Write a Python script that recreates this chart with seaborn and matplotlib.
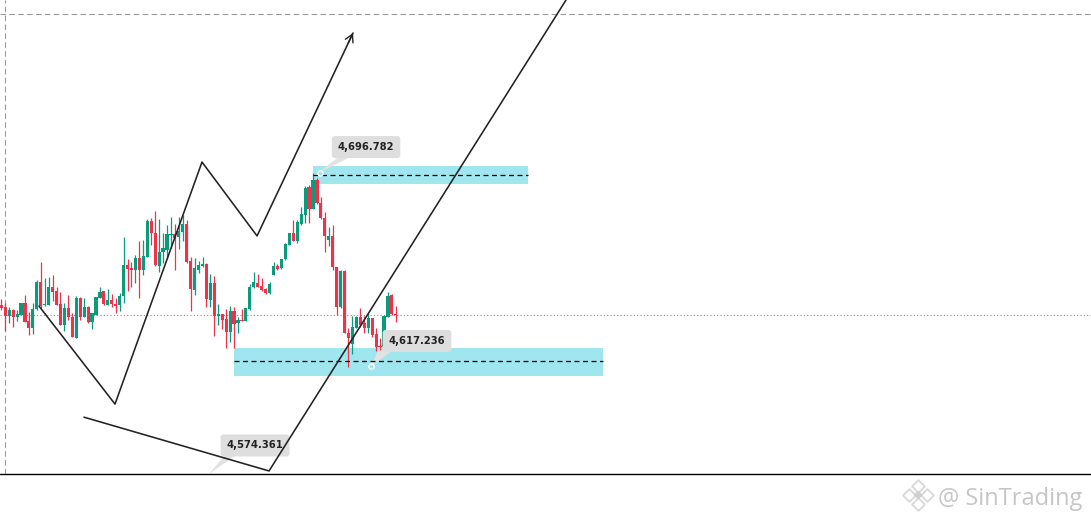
import matplotlib
matplotlib.use("Agg")
import matplotlib.pyplot as plt
import numpy as np
import pandas as pd
import seaborn as sns

highs = [4643.6,4641.9,4640.5,4639.3,4639.0,4642.2,4645.5,4638.3,4641.9,4651.9,4659.7,4652.6,4653.0,4654.0,4649.0,4646.9,4641.9,4645.5,4637.9,4645.0,4644.8,4644.0,4640.8,4637.6,4644.5,4648.7,4647.3,4647.9,4645.9,4644.0,4646.2,4670.4,4660.7,4659.7,4662.6,4668.7,4669.0,4677.8,4678.3,4681.5,4677.8,4671.8,4675.4,4679.0,4675.8,4679.0,4679.7,4677.5,4661.9,4661.1,4660.2,4661.6,4659.0,
         4654.4,4653.6,4641.6,4637.3,4639.3,4640.8,4640.2,4636.2,4639.3,4639.8,4650.2,4655.3,4654.4,4652.6,4648.3,4651.2,4659.7,4658.7,4660.7,4667.8,4671.8,4677.5,4677.5,4683.0,4692.1,4692.5,4697.8,4695.4,4687.2,4681.1,4674.7,4675.4,4657.3,4656.2,4656.2,4631.2,4636.5,4636.5,4639.8,4636.5,4637.9,4635.6,4631.2,4626.9,4636.9,4646.6,4645.9,4640.9]
lows = [4639.1,4630.2,4633.3,4631.6,4634.5,4636.8,4634.1,4628.2,4628.8,4639.0,4639.8,4640.8,4641.2,4643.0,4641.0,4632.5,4630.2,4634.8,4627.4,4626.9,4634.8,4635.9,4633.3,4630.8,4636.9,4644.0,4641.2,4641.0,4640.5,4637.6,4638.8,4642.2,4647.3,4649.0,4650.7,4644.0,4654.0,4661.6,4666.9,4657.9,4655.4,4659.3,4660.7,4665.4,4656.2,4665.0,4668.7,4659.3,4638.8,4645.5,4655.0,4657.6,4640.5,
        4640.5,4627.9,4632.6,4630.8,4622.6,4625.5,4622.6,4629.3,4634.2,4634.2,4639.0,4648.3,4648.7,4647.3,4645.9,4645.9,4654.0,4656.2,4656.4,4660.4,4666.7,4668.6,4667.5,4675.4,4676.1,4676.4,4682.1,4684.4,4677.8,4664.0,4666.4,4656.2,4636.9,4639.8,4629.1,4614.8,4620.2,4631.2,4631.9,4629.1,4629.1,4627.6,4621.7,4621.9,4622.2,4635.9,4636.9,4634.1]
opens = [4641.0,4640.2,4636.6,4639.0,4636.2,4637.1,4642.2,4634.3,4631.2,4639.3,4651.2,4641.0,4641.3,4648.7,4647.2,4641.6,4632.6,4640.1,4636.2,4627.2,4644.3,4636.2,4640.5,4633.9,4637.1,4644.2,4647.3,4641.3,4643.3,4641.6,4641.0,4645.0,4658.3,4657.0,4656.3,4661.1,4656.3,4661.9,4677.3,4671.8,4657.9,4663.9,4664.7,4671.1,4671.6,4670.1,4672.6,4675.8,4660.0,4647.6,4656.2,4657.9,4658.7,
         4643.3,4650.7,4636.5,4637.3,4635.1,4629.8,4638.8,4633.3,4634.8,4634.5,4639.3,4648.7,4650.7,4649.3,4647.9,4646.2,4654.2,4658.0,4656.9,4660.7,4667.0,4671.8,4668.6,4675.8,4679.8,4691.5,4682.4,4694.6,4684.7,4678.2,4669.0,4670.7,4657.3,4640.2,4655.9,4629.1,4624.5,4631.2,4635.9,4633.3,4631.5,4635.6,4628.8,4623.6,4623.1,4635.9,4645.5,4637.3]
closes = [4639.8,4636.6,4639.0,4636.2,4637.3,4642.2,4634.1,4631.4,4639.6,4651.2,4640.8,4641.5,4648.7,4646.9,4641.2,4632.8,4640.1,4635.9,4627.4,4644.3,4636.2,4640.5,4634.1,4637.6,4644.5,4646.8,4641.5,4643.3,4641.6,4640.8,4645.0,4658.3,4656.7,4656.3,4661.1,4656.3,4662.1,4677.3,4671.8,4658.2,4664.0,4665.4,4671.6,4671.6,4669.7,4673.0,4675.8,4659.7,4647.9,4656.9,4658.2,4658.6,4643.6,
          4650.4,4636.5,4637.3,4634.8,4629.8,4638.8,4633.1,4634.8,4634.3,4639.8,4649.0,4651.2,4649.0,4647.6,4646.5,4650.2,4657.9,4656.6,4660.7,4667.3,4671.8,4668.7,4676.8,4680.1,4691.2,4682.1,4694.6,4684.7,4678.2,4670.7,4670.7,4657.3,4640.2,4655.9,4629.1,4626.9,4631.6,4635.9,4632.6,4631.5,4635.6,4628.3,4623.1,4623.1,4636.6,4645.2,4637.3,4636.8]

path_up_x = [10.56, 29.82, 51.87, 65.82, 90.15]
path_up_p = [4640.7, 4598.8, 4702.3, 4670.7, 4757.5]
trend_x = [21.96, 68.86, 144.14]
trend_p = [4593.2, 4570.2, 4771.6]

zone_top = (80.0, 134.5, 4692.9, 4700.6, 4696.782)
zone_bottom = (60.0, 153.5, 4610.8, 4622.8, 4617.236)
last_price = 4637.0
upper_level = 4765.6
base_level = 4568.9
label_text = ["4,696.782", "4,617.236", "4,574.361"]
label_x = [93.45, 106.37, 65.31]
label_p = [4708.7, 4625.8, 4581.1]

GREEN, RED, CYAN = "#0a9b7b", "#f0314c", "#9fe6ef"
INK = "#222222"

sns.set_theme(style="white")
plt.rcParams["font.family"] = ["DejaVu Sans"]
fig = plt.figure(figsize=(10.91, 5.21), dpi=100, facecolor="white")
ax = fig.add_axes([0, 0, 1, 1])
ax.set_xlim(0.67, 277.2)
ax.set_ylim(4548.8, 4771.6)
ax.axis("off")

for z in (zone_top, zone_bottom):
    ax.fill_between(z[:2], z[2], z[3], color=CYAN, lw=0, zorder=1)
    ax.plot(z[:2], [z[4], z[4]], color="black", lw=0.9, ls=(0, (4, 2.8)), zorder=5)

ax.axhline(upper_level, color="#9a9a9a", lw=0.8, ls=(0, (5, 3)), zorder=1)
ax.axhline(last_price, color="#d9667a", lw=0.8, ls=(0, (1, 2)), zorder=1)
ax.axhline(base_level, color="black", lw=1.0, zorder=2)
ax.axvline(1.94, ymin=0.09, color="#9a9a9a", lw=0.8, ls=(0, (5, 3)), zorder=1)

df = pd.DataFrame({"i": np.arange(1, len(opens) + 1), "o": opens, "h": highs, "l": lows, "c": closes})
colors = np.where(df.c >= df.o, GREEN, RED)
ax.vlines(df.i, df.l, df.h, colors=colors, lw=0.9, zorder=3)
ax.bar(df.i, np.maximum(np.abs(df.c - df.o), 0.5), bottom=np.minimum(df.o, df.c),
       width=0.8, color=colors, lw=0, zorder=3)

sns.lineplot(x=path_up_x, y=path_up_p, sort=False, estimator=None, color=INK, lw=1.15, ax=ax, zorder=6)
sns.lineplot(x=trend_x, y=trend_p, sort=False, estimator=None, color=INK, lw=1.15, ax=ax, zorder=6)
tail_x = path_up_x[-2] + 0.95 * (path_up_x[-1] - path_up_x[-2])
tail_p = path_up_p[-2] + 0.95 * (path_up_p[-1] - path_up_p[-2])
ax.annotate("", xy=(path_up_x[-1], path_up_p[-1]), xytext=(tail_x, tail_p),
            arrowprops=dict(arrowstyle="->,head_length=0.45,head_width=0.25", color=INK, lw=1.0,
                            shrinkA=0, shrinkB=0), zorder=6)

wedges = [([80.5, 86.85, 89.9], [4696.8, 4704.9, 4704.9]),
          ([94.7, 97.75, 100.03], [4615.1, 4626.2, 4621.5]),
          ([53.65, 57.7, 60.5], [4568.9, 4577.0, 4577.0])]
for wx, wp in wedges:
    ax.fill(wx, wp, color="#e2e2e2", lw=0, zorder=2)
for s, x, p in zip(label_text, label_x, label_p):
    ax.text(x, p, s, ha="center", va="center", fontsize=7.2, fontweight="bold", color="#222222", zorder=5,
            bbox=dict(boxstyle="round,pad=0.6,rounding_size=0.3", fc="#dedede", ec="none"))
ax.scatter([81.79, 94.64], [4697.5, 4615.1], s=14, facecolor=CYAN, edgecolor="white", lw=1.0, zorder=6)

ax.text(0.8595, 0.0305, "@ SinTrading", transform=ax.transAxes, fontsize=17, color="#c6c6c6",
        family="Open Sans", ha="left", va="baseline", zorder=7)
# logo of the watermark: four small diamonds round a hollow centre
cx, cy, dx, dy = 0.8415, 0.0497, 0.0082, 0.0172
ax.scatter([cx - dx, cx + dx, cx, cx], [cy, cy, cy - dy, cy + dy], s=42, marker="D", facecolor="white",
           edgecolor="#d8d8d8", lw=1.3, transform=ax.transAxes, zorder=7)
ax.scatter([cx], [cy], s=22, marker="D", facecolor="#cfcfcf", edgecolor="none", transform=ax.transAxes, zorder=8)

fig.savefig("out.png", dpi=100, facecolor="white")
